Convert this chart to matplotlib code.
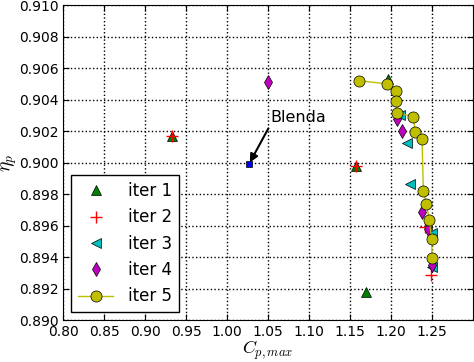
import matplotlib
matplotlib.use("Agg")
import matplotlib.pyplot as plt

plt.rcParams['mathtext.fontset'] = 'cm'

# pareto points per iteration (C_p,max, eta_p)
iter1_x = [0.933, 1.157, 1.170, 1.196]
iter1_y = [0.9017, 0.8998, 0.8918, 0.9053]
iter2_x = [0.933, 1.157, 1.2415, 1.2488]
iter2_y = [0.9017, 0.8998, 0.8959, 0.8929]
iter3_x = [1.211, 1.219, 1.223, 1.2496, 1.250]
iter3_y = [0.9030, 0.90125, 0.89867, 0.89557, 0.8934]
iter4_x = [1.0496, 1.2077, 1.2138, 1.2382, 1.2447, 1.2496]
iter4_y = [0.9051, 0.9028, 0.9020, 0.8969, 0.8958, 0.8935]
iter5_x = [1.161, 1.1955, 1.2057, 1.2061, 1.2069, 1.2272, 1.2293, 1.2378,
           1.2394, 1.2431, 1.2467, 1.2496, 1.2500]
iter5_y = [0.9052, 0.9050, 0.90458, 0.90392, 0.90315, 0.90293, 0.90198, 0.9015,
           0.89823, 0.89739, 0.89635, 0.89513, 0.89397]
blenda_x = [1.027]
blenda_y = [0.89994]

xticks = [0.80, 0.85, 0.90, 0.95, 1.00, 1.05, 1.10, 1.15, 1.20, 1.25]
yticks = [0.890, 0.892, 0.894, 0.896, 0.898, 0.900, 0.902, 0.904, 0.906, 0.908, 0.910]

fig = plt.figure(figsize=(4.74, 3.62), dpi=100)
ax = fig.add_axes([0.133, 0.115, 0.865, 0.871])

ms = 7
ax.plot(iter1_x, iter1_y, '^', color=(0, 0.5, 0), mec='k', mew=0.5, ms=ms, ls='none', label='iter 1')
ax.plot(iter2_x, iter2_y, '+', color='r', mew=1, ms=ms + 1, ls='none', label='iter 2')
ax.plot(iter3_x, iter3_y, '<', color=(0, 0.75, 0.75), mec='k', mew=0.5, ms=ms, ls='none', label='iter 3')
ax.plot(iter4_x, iter4_y, 'd', color=(0.75, 0, 0.75), mec='k', mew=0.5, ms=ms, ls='none', label='iter 4')
ax.plot(iter5_x, iter5_y, 'o-', color=(0.75, 0.75, 0), mec='k', mew=0.5, ms=ms + 1,
        lw=1, label='iter 5')
ax.plot(blenda_x, blenda_y, 's', color='b', mec='k', mew=0.5, ms=5, ls='none')

ax.annotate('Blenda', xy=(blenda_x[0], blenda_y[0]), xytext=(1.053, 0.9029),
            fontsize=11.5, ha='left', va='center',
            arrowprops=dict(arrowstyle='-|>', color='k', lw=1.5, mutation_scale=12,
                            relpos=(0.0, 0.0), shrinkA=1, shrinkB=1))

ax.set_xlim(0.80, 1.30)
ax.set_ylim(0.890, 0.910)
ax.set_xticks(xticks)
ax.set_yticks(yticks)
ax.set_xticklabels(['%.2f' % v for v in xticks], fontsize=10)
ax.set_yticklabels(['%.3f' % v for v in yticks], fontsize=10)
ax.tick_params(direction='in', top=True, right=True, length=4, pad=3)
ax.grid(True, color='k', linestyle=':', linewidth=1)

ax.set_xlabel(r'$C_{p,max}$', fontsize=13, labelpad=0)
ax.set_ylabel(r'$\eta_p$', fontsize=14, labelpad=0)

leg = ax.legend(loc='lower left', numpoints=1, fontsize=12, labelspacing=0.5,
                fancybox=False, framealpha=1, borderaxespad=0.5, handlelength=2.1,
                handletextpad=0.9)
leg.get_frame().set_edgecolor('k')

fig.savefig('out.png', dpi=100)
